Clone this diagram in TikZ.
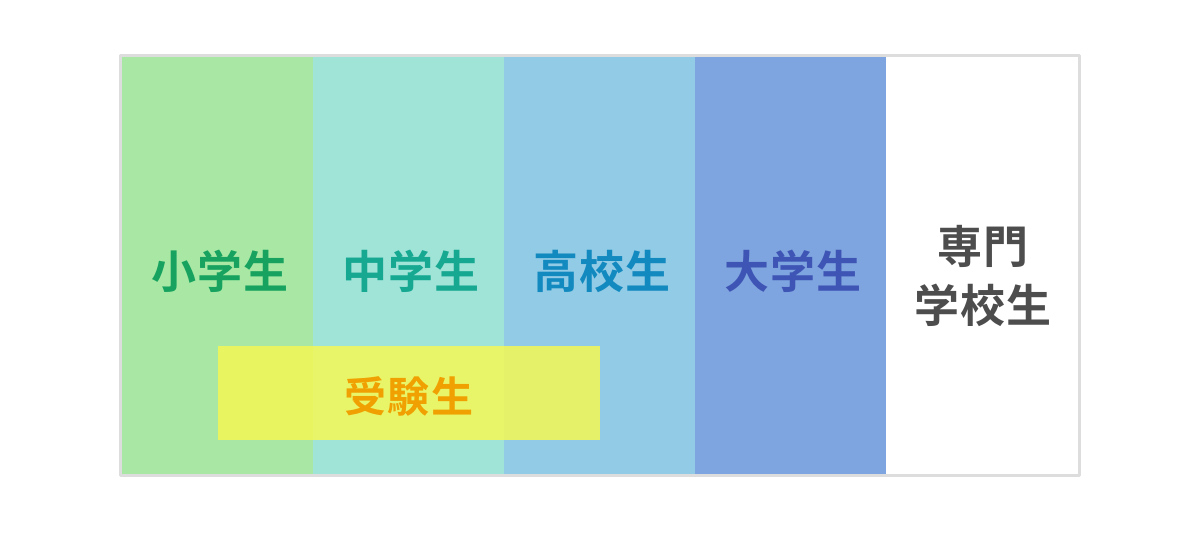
\documentclass[tikz,border=0pt]{standalone}
\usepackage{fontspec}
\newfontfamily\jpfont[BoldFont={Noto Sans CJK JP Bold},LetterSpace=3]{Noto Sans CJK JP}
\definecolor{shoBg}{HTML}{A8E8A4}
\definecolor{shoTx}{HTML}{17A35F}
\definecolor{chuBg}{HTML}{A0E4D8}
\definecolor{chuTx}{HTML}{17A892}
\definecolor{kouBg}{HTML}{92CBE6}
\definecolor{kouTx}{HTML}{1289BF}
\definecolor{daiBg}{HTML}{7EA5DF}
\definecolor{daiTx}{HTML}{3F55B5}
\definecolor{senTx}{HTML}{4D4D4D}
\definecolor{frame}{HTML}{DDDDDD}
\definecolor{juBg}{HTML}{F5F855}
\definecolor{juTx}{HTML}{F0A000}
\begin{document}
\begin{tikzpicture}[x=0.5pt,y=-0.5pt,line join=round,
	font=\jpfont\bfseries\fontsize{22.5}{29.5}\selectfont]
	\useasboundingbox (0,0) rectangle (1200,536);
	\path
	(120.5,55.5) coordinate (A)
	(1079.5,475.5) coordinate (B)
	;
	\foreach \i/\c in {0/sho,1/chu,2/kou,3/dai}{
		\fill[\c Bg] (122+191*\i,57) rectangle ++(191,417);
	};
	\foreach \i/\c/\t in {0/sho/小学生,1/chu/中学生,2/kou/高校生,3/dai/大学生}{
		\node[text=\c Tx] (\c) at (220+191*\i,271) {\t};
	};
	\node[text=senTx, align=center] (sen) at (983,276) {専門\\学校生};
	\draw[frame, line width=1.5pt] (A) rectangle (B);
	\node[fill=juBg, fill opacity=0.85, minimum width=191pt, minimum height=47pt] (ju) at (409,393) {};
	\node[text=juTx, font=\jpfont\bfseries\fontsize{21}{26}\selectfont] (jutx) at (409,396) {受験生};
\end{tikzpicture}
\end{document}
